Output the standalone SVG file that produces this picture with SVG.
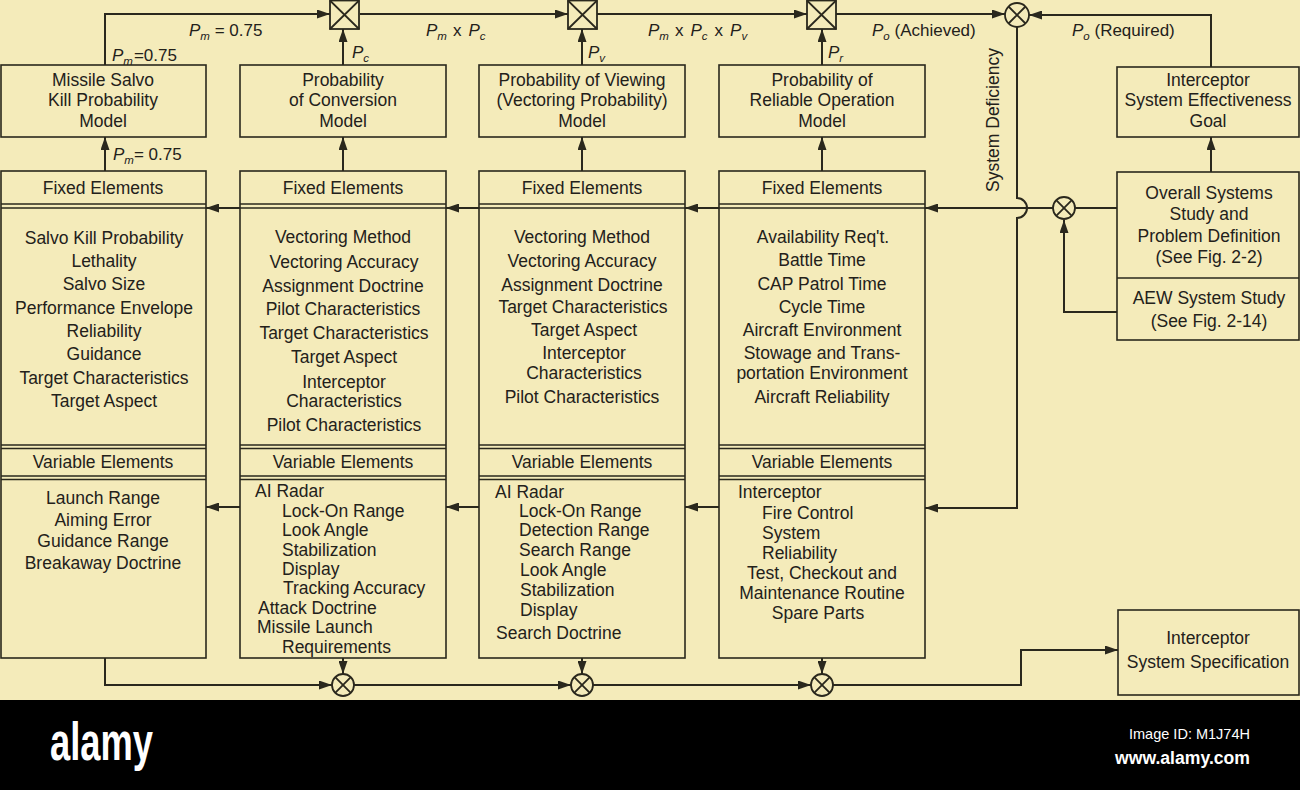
<svg xmlns="http://www.w3.org/2000/svg" width="1300" height="790" viewBox="0 0 1300 790">
<style>
text{font-family:"Liberation Sans",Arial,sans-serif;font-size:17.5px;fill:#23211a}
.c{text-anchor:middle}
.lab{font-size:17px}
.i{font-style:italic}
.sub{font-size:11.5px;font-style:italic}
.box{fill:none;stroke:#2a281d;stroke-width:1.6}
.dl{stroke:#2a281d;stroke-width:1.4}
.ln{fill:none;stroke:#2a281d;stroke-width:2}
.sym{fill:none;stroke:#2a281d;stroke-width:1.8}
text.wm{fill:#fff}
text.logo{font-size:54px;font-weight:bold}
text.imgid{font-size:15px;text-anchor:end}
text.url{font-size:18px;font-weight:bold;text-anchor:end}
</style>
<defs>
<marker id="ah" viewBox="0 0 13 9" refX="13" refY="4.5" markerWidth="13" markerHeight="9" markerUnits="userSpaceOnUse" orient="auto">
<path d="M0,0 L13,4.5 L0,9 z" fill="#2a281d"/>
</marker>
</defs>
<rect x="0" y="0" width="1300" height="700" fill="#f4ebba"/>

<g id="connectors">
<path class="ln" d="M105,65 V14 H330" marker-end="url(#ah)"/>
<path class="ln" d="M360,14 H568" marker-end="url(#ah)"/>
<path class="ln" d="M597,14 H807" marker-end="url(#ah)"/>
<path class="ln" d="M836,14 H1005" marker-end="url(#ah)"/>
<path class="ln" d="M1211,67 V15 H1029" marker-end="url(#ah)"/>
<path class="ln" d="M343,65 V29" marker-end="url(#ah)"/>
<path class="ln" d="M582,65 V29" marker-end="url(#ah)"/>
<path class="ln" d="M822,65 V29" marker-end="url(#ah)"/>
<path class="ln" d="M105,171 V137" marker-end="url(#ah)"/>
<path class="ln" d="M343,171 V137" marker-end="url(#ah)"/>
<path class="ln" d="M582,171 V137" marker-end="url(#ah)"/>
<path class="ln" d="M822,171 V137" marker-end="url(#ah)"/>
<path class="ln" d="M1211,172 V137" marker-end="url(#ah)"/>
<path class="ln" d="M1017,27 V198 A10,10 0 0 1 1017,218 V508 H925" marker-end="url(#ah)"/>
<path class="ln" d="M1053,208 H925" marker-end="url(#ah)"/>
<path class="ln" d="M1075,208 H1117"/>
<path class="ln" d="M1117,312 H1064 V220" marker-end="url(#ah)"/>
<path class="ln" d="M719,208 H685" marker-end="url(#ah)"/>
<path class="ln" d="M479,208 H446" marker-end="url(#ah)"/>
<path class="ln" d="M240,208 H206" marker-end="url(#ah)"/>
<path class="ln" d="M719,507 H685" marker-end="url(#ah)"/>
<path class="ln" d="M479,507 H446" marker-end="url(#ah)"/>
<path class="ln" d="M240,507 H206" marker-end="url(#ah)"/>
<path class="ln" d="M105,658 V685 H332" marker-end="url(#ah)"/>
<path class="ln" d="M343,658 V674" marker-end="url(#ah)"/>
<path class="ln" d="M354,685 H571" marker-end="url(#ah)"/>
<path class="ln" d="M582,658 V674" marker-end="url(#ah)"/>
<path class="ln" d="M593,685 H811" marker-end="url(#ah)"/>
<path class="ln" d="M822,658 V674" marker-end="url(#ah)"/>
<path class="ln" d="M833,685 H1021 V650 H1118" marker-end="url(#ah)"/>
</g>

<g id="labels">
<text class="lab" x="189" y="36"><tspan class="i">P</tspan><tspan class="sub" dy="4">m</tspan><tspan dy="-4"> = 0.75</tspan></text>
<text class="lab" x="112" y="61"><tspan class="i">P</tspan><tspan class="sub" dy="4">m</tspan><tspan dy="-4" dx="1">=0.75</tspan></text>
<text class="lab" x="113" y="160"><tspan class="i">P</tspan><tspan class="sub" dy="4">m</tspan><tspan dy="-4">= 0.75</tspan></text>
<text class="lab" x="352" y="58"><tspan class="i">P</tspan><tspan class="sub" dy="4">c</tspan></text>
<text class="lab" x="588" y="58"><tspan class="i">P</tspan><tspan class="sub" dy="4">v</tspan></text>
<text class="lab" x="828" y="58"><tspan class="i">P</tspan><tspan class="sub" dy="4">r</tspan></text>
<text class="lab" x="426" y="36"><tspan class="i">P</tspan><tspan class="sub" dy="4">m</tspan><tspan dy="-4" dx="6">x</tspan><tspan class="i" dx="7">P</tspan><tspan class="sub" dy="4">c</tspan></text>
<text class="lab" x="648" y="36"><tspan class="i">P</tspan><tspan class="sub" dy="4">m</tspan><tspan dy="-4" dx="6">x</tspan><tspan class="i" dx="7">P</tspan><tspan class="sub" dy="4">c</tspan><tspan dy="-4" dx="7">x</tspan><tspan class="i" dx="7">P</tspan><tspan class="sub" dy="4">v</tspan></text>
<text class="lab" x="872" y="36"><tspan class="i">P</tspan><tspan class="sub" dy="4">o</tspan><tspan dy="-4"> (Achieved)</tspan></text>
<text class="lab" x="1072" y="36"><tspan class="i">P</tspan><tspan class="sub" dy="4">o</tspan><tspan dy="-4"> (Required)</tspan></text>
<text class="c" transform="translate(999,120) rotate(-90)">System Deficiency</text>
</g>

<g id="mult1"><rect class="sym" x="330" y="0.5" width="29" height="28.5"/><path class="sym" d="M330,0.5 L359,29 M359,0.5 L330,29"/></g>
<g id="mult2"><rect class="sym" x="568" y="0.5" width="29" height="28.5"/><path class="sym" d="M568,0.5 L597,29 M597,0.5 L568,29"/></g>
<g id="mult3"><rect class="sym" x="807" y="0.5" width="29" height="28.5"/><path class="sym" d="M807,0.5 L836,29 M836,0.5 L807,29"/></g>

<g id="cmp-top"><circle class="sym" cx="1017" cy="15" r="12"/><path class="sym" d="M1008.5,6.5 L1025.5,23.5 M1025.5,6.5 L1008.5,23.5"/></g>
<g id="cmp-mid"><circle class="sym" cx="1064" cy="208" r="11"/><path class="sym" d="M1056.2,200.2 L1071.8,215.8 M1071.8,200.2 L1056.2,215.8"/></g>
<g id="sum1"><circle class="sym" cx="343" cy="685" r="11"/><path class="sym" d="M335.2,677.2 L350.8,692.8 M350.8,677.2 L335.2,692.8"/></g>
<g id="sum2"><circle class="sym" cx="582" cy="685" r="11"/><path class="sym" d="M574.2,677.2 L589.8,692.8 M589.8,677.2 L574.2,692.8"/></g>
<g id="sum3"><circle class="sym" cx="822" cy="685" r="11"/><path class="sym" d="M814.2,677.2 L829.8,692.8 M829.8,677.2 L814.2,692.8"/></g>

<g id="model-missile">
<rect class="box" x="1" y="65" width="205" height="72"/>
<text class="c" x="103" y="86">Missile Salvo</text>
<text class="c" x="103" y="106">Kill Probability</text>
<text class="c" x="103" y="127">Model</text>
</g>
<g id="model-conversion">
<rect class="box" x="240" y="65" width="206" height="72"/>
<text class="c" x="343" y="86">Probability</text>
<text class="c" x="343" y="106">of Conversion</text>
<text class="c" x="343" y="127">Model</text>
</g>
<g id="model-viewing">
<rect class="box" x="479" y="65" width="206" height="72"/>
<text class="c" x="582" y="86">Probability of Viewing</text>
<text class="c" x="582" y="106">(Vectoring Probability)</text>
<text class="c" x="582" y="127">Model</text>
</g>
<g id="model-reliable">
<rect class="box" x="719" y="65" width="206" height="72"/>
<text class="c" x="822" y="86">Probability of</text>
<text class="c" x="822" y="106">Reliable Operation</text>
<text class="c" x="822" y="127">Model</text>
</g>
<g id="goal">
<rect class="box" x="1117" y="67" width="182" height="70"/>
<text class="c" x="1208" y="86">Interceptor</text>
<text class="c" x="1208" y="106">System Effectiveness</text>
<text class="c" x="1208" y="127">Goal</text>
</g>

<g id="elements-missile">
<rect class="box" x="1" y="171" width="205" height="487"/>
<line class="dl" x1="1" y1="204" x2="206" y2="204"/><line class="dl" x1="1" y1="208" x2="206" y2="208"/>
<line class="dl" x1="1" y1="445" x2="206" y2="445"/><line class="dl" x1="1" y1="448.5" x2="206" y2="448.5"/>
<line class="dl" x1="1" y1="476" x2="206" y2="476"/><line class="dl" x1="1" y1="479.5" x2="206" y2="479.5"/>
<text class="c" x="103" y="194">Fixed Elements</text>
<text class="c" x="104" y="244">Salvo Kill Probability</text>
<text class="c" x="104" y="267">Lethality</text>
<text class="c" x="104" y="290">Salvo Size</text>
<text class="c" x="104" y="314">Performance Envelope</text>
<text class="c" x="104" y="337">Reliability</text>
<text class="c" x="104" y="360">Guidance</text>
<text class="c" x="104" y="384">Target Characteristics</text>
<text class="c" x="104" y="407">Target Aspect</text>
<text class="c" x="103" y="468">Variable Elements</text>
<text class="c" x="103" y="504">Launch Range</text>
<text class="c" x="103" y="526">Aiming Error</text>
<text class="c" x="103" y="547">Guidance Range</text>
<text class="c" x="103" y="569">Breakaway Doctrine</text>
</g>

<g id="elements-conversion">
<rect class="box" x="240" y="171" width="206" height="487"/>
<line class="dl" x1="240" y1="204" x2="446" y2="204"/><line class="dl" x1="240" y1="208" x2="446" y2="208"/>
<line class="dl" x1="240" y1="445" x2="446" y2="445"/><line class="dl" x1="240" y1="448.5" x2="446" y2="448.5"/>
<line class="dl" x1="240" y1="476" x2="446" y2="476"/><line class="dl" x1="240" y1="479.5" x2="446" y2="479.5"/>
<text class="c" x="343" y="194">Fixed Elements</text>
<text class="c" x="343" y="243">Vectoring Method</text>
<text class="c" x="344" y="268">Vectoring Accuracy</text>
<text class="c" x="343" y="292">Assignment Doctrine</text>
<text class="c" x="343" y="315">Pilot Characteristics</text>
<text class="c" x="344" y="339">Target Characteristics</text>
<text class="c" x="344" y="363">Target Aspect</text>
<text class="c" x="344" y="388">Interceptor</text>
<text class="c" x="344" y="407">Characteristics</text>
<text class="c" x="344" y="431">Pilot Characteristics</text>
<text class="c" x="343" y="468">Variable Elements</text>
<text x="255" y="497">AI Radar</text>
<text x="282" y="517">Lock-On Range</text>
<text x="282" y="536">Look Angle</text>
<text x="282" y="556">Stabilization</text>
<text x="282" y="575">Display</text>
<text x="283" y="594">Tracking Accuracy</text>
<text x="258" y="614">Attack Doctrine</text>
<text x="257" y="633">Missile Launch</text>
<text x="282" y="653">Requirements</text>
</g>

<g id="elements-viewing">
<rect class="box" x="479" y="171" width="206" height="487"/>
<line class="dl" x1="479" y1="204" x2="685" y2="204"/><line class="dl" x1="479" y1="208" x2="685" y2="208"/>
<line class="dl" x1="479" y1="445" x2="685" y2="445"/><line class="dl" x1="479" y1="448.5" x2="685" y2="448.5"/>
<line class="dl" x1="479" y1="476" x2="685" y2="476"/><line class="dl" x1="479" y1="479.5" x2="685" y2="479.5"/>
<text class="c" x="582" y="194">Fixed Elements</text>
<text class="c" x="582" y="243">Vectoring Method</text>
<text class="c" x="582" y="267">Vectoring Accuracy</text>
<text class="c" x="582" y="291">Assignment Doctrine</text>
<text class="c" x="583" y="313">Target Characteristics</text>
<text class="c" x="584" y="336">Target Aspect</text>
<text class="c" x="584" y="359">Interceptor</text>
<text class="c" x="584" y="379">Characteristics</text>
<text class="c" x="582" y="403">Pilot Characteristics</text>
<text class="c" x="582" y="468">Variable Elements</text>
<text x="495" y="498">AI Radar</text>
<text x="519" y="517">Lock-On Range</text>
<text x="519" y="536">Detection Range</text>
<text x="519" y="556">Search Range</text>
<text x="520" y="576">Look Angle</text>
<text x="520" y="596">Stabilization</text>
<text x="520" y="616">Display</text>
<text x="496" y="639">Search Doctrine</text>
</g>

<g id="elements-reliable">
<rect class="box" x="719" y="171" width="206" height="487"/>
<line class="dl" x1="719" y1="204" x2="925" y2="204"/><line class="dl" x1="719" y1="208" x2="925" y2="208"/>
<line class="dl" x1="719" y1="445" x2="925" y2="445"/><line class="dl" x1="719" y1="448.5" x2="925" y2="448.5"/>
<line class="dl" x1="719" y1="476" x2="925" y2="476"/><line class="dl" x1="719" y1="479.5" x2="925" y2="479.5"/>
<text class="c" x="822" y="194">Fixed Elements</text>
<text class="c" x="823" y="243">Availability Req't.</text>
<text class="c" x="822" y="266">Battle Time</text>
<text class="c" x="822" y="290">CAP Patrol Time</text>
<text class="c" x="822" y="313">Cycle Time</text>
<text class="c" x="822" y="336">Aircraft Environment</text>
<text class="c" x="822" y="359">Stowage and Trans-</text>
<text class="c" x="822" y="379">portation Environment</text>
<text class="c" x="822" y="403">Aircraft Reliability</text>
<text class="c" x="822" y="468">Variable Elements</text>
<text x="738" y="498">Interceptor</text>
<text x="762" y="519">Fire Control</text>
<text x="762" y="539">System</text>
<text x="762" y="559">Reliability</text>
<text class="c" x="822" y="579">Test, Checkout and</text>
<text class="c" x="822" y="599">Maintenance Routine</text>
<text class="c" x="818" y="619">Spare Parts</text>
</g>

<g id="study">
<rect class="box" x="1117" y="172" width="182" height="168"/>
<line class="dl" x1="1117" y1="278" x2="1299" y2="278"/>
<text class="c" x="1209" y="199">Overall Systems</text>
<text class="c" x="1209" y="220">Study and</text>
<text class="c" x="1209" y="242">Problem Definition</text>
<text class="c" x="1209" y="263">(See Fig. 2-2)</text>
<text class="c" x="1209" y="304">AEW System Study</text>
<text class="c" x="1209" y="327">(See Fig. 2-14)</text>
</g>

<g id="spec">
<rect class="box" x="1118" y="610" width="181" height="85"/>
<text class="c" x="1208" y="644">Interceptor</text>
<text class="c" x="1208" y="668">System Specification</text>
</g>

<rect x="0" y="700" width="1300" height="90" fill="#000"/>
<text class="wm logo" x="50" y="760" textLength="103" lengthAdjust="spacingAndGlyphs">alamy</text>
<text class="wm imgid" x="1250" y="739" textLength="121" lengthAdjust="spacingAndGlyphs">Image ID: M1J74H</text>
<text class="wm url" x="1250" y="764" textLength="135" lengthAdjust="spacingAndGlyphs">www.alamy.com</text>
</svg>
